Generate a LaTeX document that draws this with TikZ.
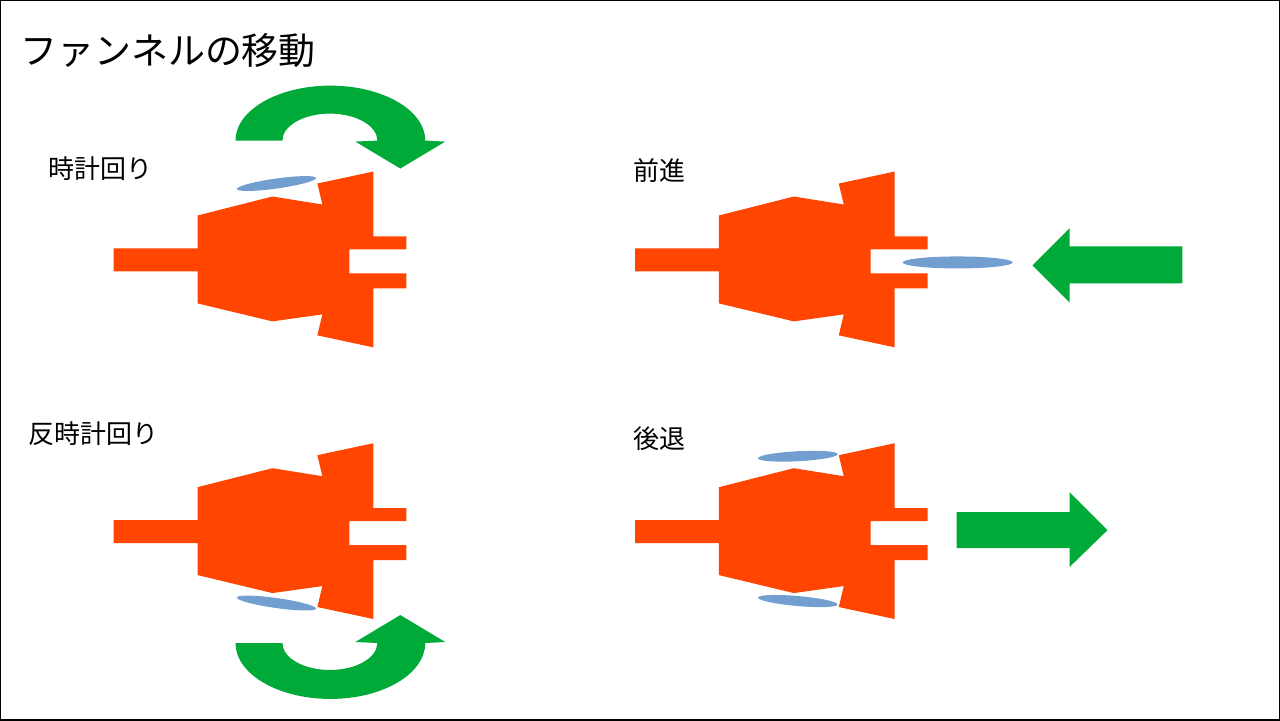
\documentclass[tikz,border=0pt]{standalone}
\usepackage{fontspec}
\newfontfamily\jp{Noto Sans CJK JP}
\begin{document}
\begin{tikzpicture}[x=1pt,y=-1pt,
  funnel/.style={fill={rgb,255:red,255;green,69;blue,0}},
  grn/.style={fill={rgb,255:red,0;green,170;blue,56}},
  blu/.style={fill={rgb,255:red,114;green,159;blue,207}},
  lbl/.style={font=\jp\fontsize{26}{30}\selectfont,anchor=west,inner sep=0}]
\draw[line width=1.5pt,fill=white] (0,0) rectangle (1280,720);
\node[lbl,font=\jp\fontsize{37}{42}\selectfont] (title) at (20,50) {ファンネルの移動};
\node[lbl] (l1) at (48,168) {時計回り};
\node[lbl] (l2) at (633,170) {前進};
\node[lbl] (l3) at (28,433) {反時計回り};
\node[lbl] (l4) at (633,438) {後退};
\foreach \dx/\dy in {0/0,522/0,0/272,522/272}{
\fill[funnel,shift={(\dx,\dy)}] (113,248)--(197,248)--(197,215)--(272,196)--(322,204)--(317,183)--(373,171)--(373,236)--(406,236)--(406,249)--(349,249)--(349,273)--(406,273)--(406,288)--(373,288)--(373,347)--(317,335)--(322,314)--(272,321)--(197,303)--(197,271)--(113,271)--cycle;}
% blue smudges
\fill[blu,rotate around={8:(276,183)}] (276,183) ellipse (40 and 5);
\fill[blu,rotate around={-8:(276,603)}] (276,603) ellipse (40 and 5);
\fill[blu] (958,262) ellipse (55 and 6);
\fill[blu,rotate around={3:(798,456)}] (798,456) ellipse (40 and 5);
\fill[blu,rotate around={-5:(798,601)}] (798,601) ellipse (40 and 5);
% curved arrows
\fill[grn] (235,140) arc (180:360:95 and 55) -- (445,141) -- (400,168) -- (355,141) -- (377,140) arc (0:-180:47.5 and 27) -- cycle;
\fill[grn] (235,643) arc (180:0:95 and 56) -- (445,642) -- (400,615) -- (355,642) -- (377,643) arc (0:180:47.5 and 27) -- cycle;
% straight arrows
\fill[grn] (1033,265)--(1070,228)--(1070,246)--(1183,246)--(1183,283)--(1070,283)--(1070,302)--cycle;
\fill[grn] (1108,530)--(1070,492)--(1070,512)--(957,512)--(957,548)--(1070,548)--(1070,567)--cycle;
\end{tikzpicture}
\end{document}
